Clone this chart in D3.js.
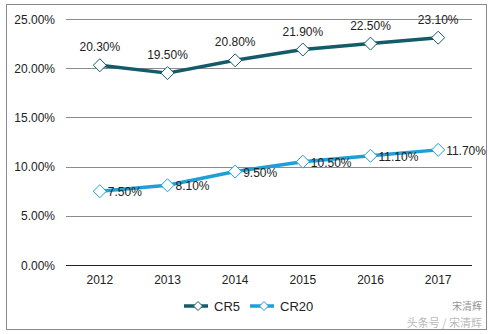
<!DOCTYPE html>
<html><head><meta charset="utf-8">
<script src="https://cdn.jsdelivr.net/npm/d3@7"></script>
<style>body{margin:0;background:#fff}svg{display:block}</style>
</head><body>
<script>
const years = ["2012","2013","2014","2015","2016","2017"];
const cr5 = [20.3, 19.5, 20.8, 21.9, 22.5, 23.1];
const cr20 = [7.5, 8.1, 9.5, 10.5, 11.1, 11.7];
const yTicks = [0, 5, 10, 15, 20, 25];
const seriesNames = ["CR5", "CR20"];
const colors = ["#145b6a", "#1d9fd8"];

const W = 489, H = 334;
const svg = d3.select("body").append("svg").attr("width", W).attr("height", H);
svg.append("rect").attr("x", 6.5).attr("y", 4.5).attr("width", 480).attr("height", 325)
  .attr("fill", "#fff").attr("stroke", "#8a8a8a").attr("stroke-width", 1);

const x = d3.scaleBand().domain(years).range([66, 472]);
const y = d3.scaleLinear().domain([0, 25]).range([265, 19]);
const font = "Arial, 'Liberation Sans', sans-serif";

svg.append("g").selectAll("line").data(yTicks).join("line")
  .attr("x1", 66).attr("x2", 472)
  .attr("y1", d => Math.round(y(d)) + 0.5).attr("y2", d => Math.round(y(d)) + 0.5)
  .attr("stroke", d => d === 0 ? "#222" : "#8c8c8c").attr("stroke-width", 1);

svg.append("g").selectAll("text").data(yTicks).join("text")
  .attr("x", 55).attr("y", d => y(d) + 4.5).attr("text-anchor", "end")
  .attr("font-family", font).attr("font-size", 12).attr("fill", "#222")
  .text(d => d.toFixed(2) + "%");

svg.append("g").selectAll("text").data(years).join("text")
  .attr("x", d => x(d) + x.bandwidth() / 2).attr("y", 284).attr("text-anchor", "middle")
  .attr("font-family", font).attr("font-size", 12).attr("fill", "#222")
  .text(d => d);

const cx = d => x(d) + x.bandwidth() / 2;
function diamondPath(s) { return `M0,${-s}L${s},0L0,${s}L${-s},0Z`; }

[cr5, cr20].forEach((vals, i) => {
  const line = d3.line().x((d, j) => cx(years[j])).y(d => y(d));
  svg.append("path").datum(vals).attr("d", line).attr("fill", "none")
    .attr("stroke", colors[i]).attr("stroke-width", 3.5).attr("stroke-linejoin", "round");
  svg.append("g").selectAll("path").data(vals).join("path")
    .attr("transform", (d, j) => `translate(${cx(years[j])},${y(d)})`)
    .attr("d", diamondPath(6.5)).attr("fill", "#fff").attr("stroke", colors[i]).attr("stroke-width", 1);
  svg.append("g").selectAll("text").data(vals).join("text")
    .attr("x", (d, j) => i === 0 ? cx(years[j]) : cx(years[j]) + 8)
    .attr("y", d => i === 0 ? y(d) - 14 : y(d) + 5)
    .attr("text-anchor", i === 0 ? "middle" : "start")
    .attr("font-family", font).attr("font-size", 12).attr("fill", "#222")
    .text(d => d.toFixed(2) + "%");
});

const legX = [184, 250];
seriesNames.forEach((n, i) => {
  const g = svg.append("g").attr("transform", `translate(${legX[i]},306)`);
  g.append("line").attr("x1", 0).attr("x2", 24).attr("y1", 0).attr("y2", 0)
    .attr("stroke", colors[i]).attr("stroke-width", 3.5);
  g.append("path").attr("transform", "translate(14,0)").attr("d", diamondPath(4.5))
    .attr("fill", "#fff").attr("stroke", colors[i]).attr("stroke-width", 1);
  g.append("text").attr("x", 30).attr("y", 5).attr("font-family", font).attr("font-size", 13)
    .attr("fill", "#222").text(n);
});

svg.append("text").attr("x", 482).attr("y", 310).attr("text-anchor", "end")
  .attr("font-family", "'Noto Sans CJK SC', sans-serif").attr("font-size", 10).attr("fill", "#777")
  .attr("opacity", 0.8).text("宋清辉");
svg.append("text").attr("x", 482).attr("y", 327).attr("text-anchor", "end")
  .attr("font-family", "'Noto Sans CJK SC', sans-serif").attr("font-size", 11).attr("fill", "#bbb")
  .text("头条号 / 宋清辉");
</script>
</body></html>
